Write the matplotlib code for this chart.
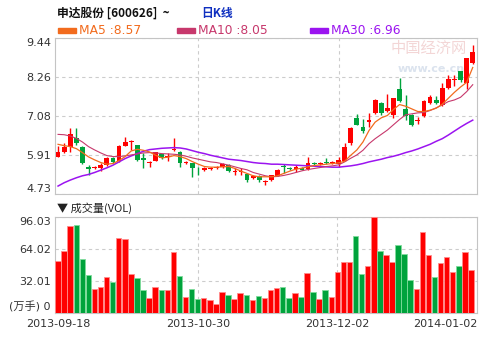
import matplotlib
matplotlib.use("Agg")
import matplotlib.pyplot as plt
from matplotlib.patches import Rectangle
import numpy as np

plt.rcParams['font.family'] = ['DejaVu Sans', 'Noto Sans CJK SC']

# daily K line, 2013-09-18 .. 2014-01-02
opens = [5.86, 6.01, 6.16, 6.41, 6.16, 5.56, 5.51, 5.51, 5.61, 5.83,
         5.73, 6.19, 6.29, 6.21, 5.83, 5.68, 5.74, 5.93, 5.86, 6.06,
         6.01, 5.68, 5.66, 5.52, 5.44, 5.48, 5.52, 5.54, 5.61, 5.40,
         5.40, 5.33, 5.20, 5.28, 5.09, 5.14, 5.28, 5.58, 5.53, 5.48,
         5.53, 5.48, 5.68, 5.64, 5.70, 5.66, 5.63, 5.74, 6.26, 7.02,
         6.76, 6.89, 7.17, 7.49, 7.25, 7.12, 7.89, 7.29, 7.12, 6.94,
         7.09, 7.49, 7.57, 7.42, 7.92, 8.16, 8.43, 8.07, 8.68]
highs = [6.19, 6.26, 6.71, 6.71, 6.18, 5.61, 5.58, 5.68, 5.86, 5.86,
         6.20, 6.46, 6.36, 6.22, 5.96, 5.73, 6.00, 5.95, 5.98, 6.41,
         6.03, 5.74, 5.68, 5.54, 5.55, 5.56, 5.59, 5.66, 5.63, 5.50,
         5.50, 5.36, 5.30, 5.30, 5.15, 5.31, 5.47, 5.63, 5.55, 5.60,
         5.55, 5.86, 5.71, 5.70, 5.83, 5.74, 5.86, 6.26, 6.75, 7.15,
         6.99, 7.19, 7.60, 7.52, 7.75, 7.64, 8.22, 7.72, 7.14, 7.05,
         7.58, 7.72, 7.69, 8.07, 8.32, 8.33, 8.45, 8.85, 9.23]
lows = [5.84, 5.98, 6.01, 6.20, 5.64, 5.31, 5.47, 5.41, 5.58, 5.66,
        5.70, 6.17, 6.06, 5.72, 5.50, 5.55, 5.72, 5.78, 5.74, 6.04,
        5.55, 5.65, 5.25, 5.30, 5.42, 5.46, 5.47, 5.52, 5.40, 5.30,
        5.30, 5.10, 5.17, 5.08, 5.00, 5.12, 5.26, 5.35, 5.44, 5.40,
        5.44, 5.46, 5.62, 5.60, 5.64, 5.63, 5.54, 5.72, 6.22, 6.80,
        6.58, 6.76, 7.14, 7.12, 7.22, 7.02, 7.50, 6.95, 6.79, 6.85,
        7.05, 7.45, 7.45, 7.38, 7.90, 7.99, 8.12, 7.89, 8.65]
closes = [6.00, 6.15, 6.53, 6.26, 5.66, 5.48, 5.54, 5.61, 5.83, 5.69,
          6.18, 6.29, 6.33, 5.76, 5.76, 5.70, 5.99, 5.81, 5.88, 6.10,
          5.68, 5.71, 5.51, 5.50, 5.53, 5.53, 5.54, 5.63, 5.43, 5.42,
          5.43, 5.15, 5.28, 5.16, 5.11, 5.30, 5.45, 5.55, 5.48, 5.56,
          5.46, 5.68, 5.65, 5.67, 5.67, 5.71, 5.76, 6.16, 6.73, 6.82,
          6.64, 6.95, 7.57, 7.19, 7.32, 7.62, 7.55, 7.07, 6.82, 6.97,
          7.55, 7.67, 7.47, 7.92, 8.19, 8.19, 8.17, 8.83, 9.03]
up = [1, 1, 1, 0, 0, 0, 1, 1, 1, 0, 1, 1, 1, 0, 0, 1, 1, 0, 1, 1,
      0, 1, 0, 0, 1, 1, 1, 1, 0, 1, 1, 0, 1, 0, 1, 1, 1, 0, 0, 1,
      0, 1, 0, 1, 0, 1, 1, 1, 1, 0, 0, 1, 1, 0, 1, 1, 0, 0, 0, 1,
      1, 1, 0, 1, 1, 1, 0, 1, 1]

ma5 = [6.23, 6.19, 6.16, 6.10, 5.98, 5.85, 5.76, 5.68, 5.63, 5.65,
       5.74, 5.86, 6.03, 6.08, 6.05, 6.00, 5.90, 5.82, 5.84, 5.89,
       5.86, 5.80, 5.71, 5.63, 5.56, 5.54, 5.54, 5.55, 5.56, 5.50,
       5.42, 5.35, 5.28, 5.25, 5.25, 5.25, 5.28, 5.35, 5.42, 5.48,
       5.51, 5.55, 5.59, 5.61, 5.63, 5.65, 5.67, 5.72, 5.90, 6.06,
       6.30, 6.65, 6.90, 7.03, 7.10, 7.28, 7.43, 7.38, 7.30, 7.22,
       7.22, 7.26, 7.32, 7.44, 7.62, 7.80, 7.96, 8.10, 8.55]
ma10 = [6.53, 6.52, 6.48, 6.41, 6.30, 6.16, 6.06, 5.97, 5.89, 5.86,
        5.86, 5.88, 5.91, 5.94, 5.97, 5.98, 5.97, 5.95, 5.94, 5.93,
        5.91, 5.87, 5.82, 5.78, 5.74, 5.70, 5.68, 5.64, 5.60, 5.55,
        5.50, 5.46, 5.38, 5.33, 5.28, 5.25, 5.26, 5.29, 5.33, 5.38,
        5.43, 5.47, 5.50, 5.53, 5.56, 5.58, 5.61, 5.70, 5.81, 5.91,
        6.05, 6.25, 6.40, 6.53, 6.66, 6.82, 6.98, 7.12, 7.15, 7.18,
        7.19, 7.25, 7.33, 7.42, 7.52, 7.57, 7.65, 7.82, 8.03]
ma30 = [4.97, 5.07, 5.15, 5.22, 5.28, 5.32, 5.38, 5.45, 5.52, 5.60,
        5.70, 5.80, 5.88, 5.95, 6.02, 6.07, 6.09, 6.11, 6.12, 6.13,
        6.12, 6.09, 6.04, 5.99, 5.95, 5.90, 5.86, 5.82, 5.78, 5.76,
        5.74, 5.71, 5.68, 5.66, 5.65, 5.63, 5.63, 5.62, 5.61, 5.60,
        5.59, 5.58, 5.57, 5.56, 5.55, 5.54, 5.54, 5.56, 5.58, 5.61,
        5.65, 5.70, 5.74, 5.78, 5.83, 5.87, 5.92, 5.98, 6.03, 6.09,
        6.16, 6.23, 6.32, 6.40, 6.51, 6.63, 6.75, 6.86, 6.96]

volume = [51.7, 61.7, 87.3, 88.3, 54, 37.7, 24, 26, 36, 30.7,
          74.7, 74.3, 39, 35.3, 23.3, 14.7, 26.3, 23.3, 23, 61,
          37, 15.7, 23.7, 13.7, 15, 13, 9, 21.3, 18, 14,
          20, 17.7, 13.3, 16.7, 15, 22.7, 25, 26, 15.3, 19.7,
          16, 40, 20.7, 14, 23, 15.7, 41.3, 51.3, 51.3, 76.7,
          38.7, 47.3, 96.03, 61.7, 58, 51, 68.3, 59.3, 33.3, 24.3,
          81, 57.7, 35.7, 50.3, 56.3, 40.7, 46.7, 61, 43.3]

price_ticks = [4.73, 5.91, 7.08, 8.26, 9.44]
vol_ticks = [0, 32.01, 64.02, 96.03]
vol_labels = ['(万手) 0', '32.01', '64.02', '96.03']
date_idx = [0, 23, 46, 68]
date_labels = ['2013-09-18', '2013-10-30', '2013-12-02', '2014-01-02']

RED = '#ff0000'
GREEN = '#00a33c'
C5, C10, C30 = '#f26b1d', '#c7386c', '#9b14f0'
GRID = '#cccccc'
SPINE = '#c4c4c4'

fig = plt.figure(figsize=(4.9, 3.4), dpi=100)
ax = fig.add_axes([55/490, 1-194/340, 422/490, 156/340])
axv = fig.add_axes([55/490, 1-313/340, 422/490, 96/340])

x = np.arange(len(closes))
o = np.array(opens); c = np.array(closes)
colors = [RED if u else GREEN for u in up]
xmax = 68.7

# candles
ax.vlines(x, lows, highs, colors=colors, linewidth=1, zorder=3)
body_lo = np.minimum(o, c)
body_h = np.maximum(np.abs(c - o), 0.025)
ax.bar(x, body_h, bottom=body_lo, width=0.78, color=colors, linewidth=0, zorder=4)

ax.plot(x, ma30, color=C30, linewidth=1.1, zorder=5)
ax.plot(x, ma10, color=C10, linewidth=0.8, zorder=5)
ax.plot(x, ma5, color=C5, linewidth=0.9, zorder=5)

ax.set_xlim(-0.5, xmax)
ax.set_ylim(price_ticks[0], price_ticks[-1])
ax.set_yticks(price_ticks)
ax.set_yticklabels([f'{v:.2f}' for v in price_ticks])
ax.set_xticks([])
ax.grid(axis='y', color=GRID, linestyle=(0, (3, 3)), linewidth=0.8)
for d in date_idx[1:3]:
    ax.axvline(d, color=GRID, linestyle=(0, (3, 3)), linewidth=0.8, zorder=1)
ax.set_axisbelow(True)

# watermark
ax.text(0.975, 0.93, '中国经济网', transform=ax.transAxes, ha='right', va='center',
        fontsize=11, color='#f3d6d6', family=['Noto Sans CJK SC'], zorder=2)
ax.text(0.97, 0.80, 'www.ce.cn', transform=ax.transAxes, ha='right', va='center',
        fontsize=8, fontweight='bold', color='#dbe3ee', zorder=2)

# volume
vcol = [RED if u else GREEN for u in up]
vedge = ['#ff8c8c' if u else '#7fdc9c' for u in up]
axv.bar(x, volume, width=0.9, color=vcol, edgecolor=vedge, linewidth=0.6, zorder=3)
axv.set_xlim(-0.5, xmax)
axv.set_ylim(0, vol_ticks[-1])
axv.set_yticks(vol_ticks)
axv.set_yticklabels(vol_labels)
axv.grid(axis='y', color=GRID, linestyle=(0, (3, 3)), linewidth=0.8)
for d in date_idx[1:3]:
    axv.axvline(d, color=GRID, linestyle=(0, (3, 3)), linewidth=0.8, zorder=1)
axv.set_axisbelow(True)
axv.set_xticks([date_idx[0], date_idx[1], date_idx[2], xmax + 0.3])
axv.set_xticklabels(date_labels)
axv.get_xticklabels()[-1].set_horizontalalignment('right')

for a in (ax, axv):
    for s in a.spines.values():
        s.set_color(SPINE)
        s.set_linewidth(0.8)
    a.tick_params(length=0, labelsize=8, colors='#333333', pad=3)

ax.get_yticklabels()[0].set_verticalalignment('bottom')
ax.get_yticklabels()[-1].set_verticalalignment('top')
axv.get_yticklabels()[0].set_verticalalignment('bottom')
axv.get_yticklabels()[-1].set_verticalalignment('top')
axv.tick_params(axis='x', pad=4)

# header texts
fig.text(57/490, 1-13/340, '申达股份 [600626]  ~', fontsize=8.5, fontweight='bold',
         color='#111111', va='center', family=['Noto Sans CJK SC', 'DejaVu Sans'])
fig.text(201/490, 1-13/340, '日K线', fontsize=8.5, fontweight='bold',
         color='#1030c0', va='center', family=['Noto Sans CJK SC', 'DejaVu Sans'])

legend_items = [(57.5, 'MA5 :8.57', C5), (177, 'MA10 :8.05', C10), (309.5, 'MA30 :6.96', C30)]
for lx, label, col in legend_items:
    fig.patches.append(Rectangle((lx/490, 1-33/340), 18/490, 5/340,
                                 transform=fig.transFigure, color=col, figure=fig))
    fig.text((lx + 21.5)/490, 1-30.5/340, label, fontsize=8.8, color=col, va='center')

fig.text(57/490, 1-208/340, '▼ 成交量(VOL)', fontsize=8, color='#222222', va='center',
         family=['Noto Sans CJK SC', 'DejaVu Sans'])

fig.savefig('out.png', dpi=100)
